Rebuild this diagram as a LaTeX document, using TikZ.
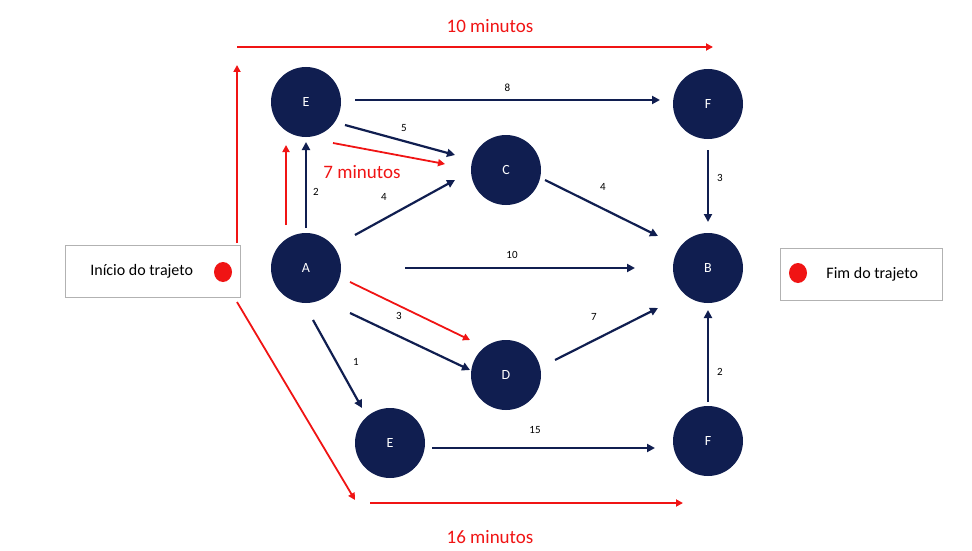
\documentclass[tikz,border=0pt]{standalone}
\usepackage{fontspec}
\setmainfont{Carlito}
\usetikzlibrary{arrows.meta}
\definecolor{navy}{RGB}{16,30,80}
\definecolor{rd}{RGB}{240,20,20}
\begin{document}
\begin{tikzpicture}[x=1pt,y=-1pt,
 nd/.style={circle,fill=navy,minimum size=70pt,inner sep=0,text=white,font=\fontsize{14}{14}\selectfont},
 ar/.style={navy,line width=2.2pt,-{Triangle[length=8pt,width=8pt]}},
 ra/.style={rd,line width=1.8pt,-{Triangle[length=7pt,width=7pt]}},
 lb/.style={font=\fontsize{11}{11}\selectfont,text=black},
 rl/.style={font=\fontsize{19}{19}\selectfont,text=rd},
 bx/.style={draw=gray!60,fill=white,minimum height=52pt,font=\fontsize{16}{16}\selectfont}]
\useasboundingbox (0,0) rectangle (972,551);
\node[nd] (E1) at (306,102) {E};
\node[nd] (F1) at (708,104) {F};
\node[nd] (C) at (506,170) {C};
\node[nd] (A) at (306,268) {A};
\node[nd] (B) at (708,268) {B};
\node[nd] (D) at (506,375) {D};
\node[nd] (E2) at (390,443) {E};
\node[nd] (F2) at (708,441) {F};
\node[bx,minimum width=175pt,anchor=west,align=left] (start) at (65,271.5) {Início do trajeto\hspace{22pt}};
\fill[rd] (223,272) ellipse (9pt and 10pt);
\node[bx,minimum width=162pt,anchor=west] (end) at (780,274) {\hspace{22pt}Fim do trajeto};
\fill[rd] (798,273) ellipse (9pt and 10pt);
\coordinate (e1a) at (355,100); \coordinate (e1b) at (660,100);
\draw[ar] (e1a) -- (e1b) node[lb,midway,above=4pt]{8};
\coordinate (eca) at (345,125); \coordinate (ecb) at (455,155);
\draw[ar] (eca) -- (ecb); \node[lb] (l5) at (404,128) {5};
\coordinate (reca) at (333,143); \coordinate (recb) at (445,164);
\draw[ra] (reca) -- (recb); \node[rl] (l7m) at (362,172) {7 minutos};
\coordinate (aea) at (306,228); \coordinate (aeb) at (306,142);
\draw[ar] (aea) -- (aeb); \node[lb] (l2) at (316,192) {2};
\coordinate (raea) at (286,225); \coordinate (raeb) at (286,145);
\draw[ra] (raea) -- (raeb);
\coordinate (aca) at (355,235); \coordinate (acb) at (455,180);
\draw[ar] (aca) -- (acb); \node[lb] (l4a) at (384,197) {4};
\coordinate (cba) at (545,180); \coordinate (cbb) at (658,236);
\draw[ar] (cba) -- (cbb); \node[lb] (l4b) at (603,187) {4};
\coordinate (fba) at (708,150); \coordinate (fbb) at (708,222);
\draw[ar] (fba) -- (fbb); \node[lb] (l3) at (720,178) {3};
\coordinate (aba) at (405,268); \coordinate (abb) at (635,268);
\draw[ar] (aba) -- (abb); \node[lb] (l10) at (512,255) {10};
\coordinate (rada) at (350,282); \coordinate (radb) at (470,340);
\draw[ra] (rada) -- (radb);
\coordinate (ada) at (350,313); \coordinate (adb) at (470,370);
\draw[ar] (ada) -- (adb); \node[lb] (l3b) at (399,316) {3};
\coordinate (aea2) at (313,320); \coordinate (aeb2) at (362,408);
\draw[ar] (aea2) -- (aeb2); \node[lb] (l1) at (356,362) {1};
\coordinate (dba) at (555,360); \coordinate (dbb) at (658,308);
\draw[ar] (dba) -- (dbb); \node[lb] (l7) at (594,317) {7};
\coordinate (efa) at (432,448); \coordinate (efb) at (655,448);
\draw[ar] (efa) -- (efb); \node[lb] (l15) at (535,430) {15};
\coordinate (fb2a) at (708,402); \coordinate (fb2b) at (708,310);
\draw[ar] (fb2a) -- (fb2b); \node[lb] (l2b) at (720,372) {2};
\coordinate (r1) at (237,243); \coordinate (r2) at (237,65);
\draw[ra] (r1) -- (r2);
\coordinate (r3) at (237,47); \coordinate (r4) at (713,47);
\draw[ra] (r3) -- (r4); \node[rl] (l10m) at (490,26) {10 minutos};
\coordinate (r5) at (237,302); \coordinate (r6) at (355,500);
\draw[ra] (r5) -- (r6);
\coordinate (r7) at (370,503); \coordinate (r8) at (683,503);
\draw[ra] (r7) -- (r8); \node[rl] (l16m) at (490,537) {16 minutos};
\end{tikzpicture}
\end{document}
